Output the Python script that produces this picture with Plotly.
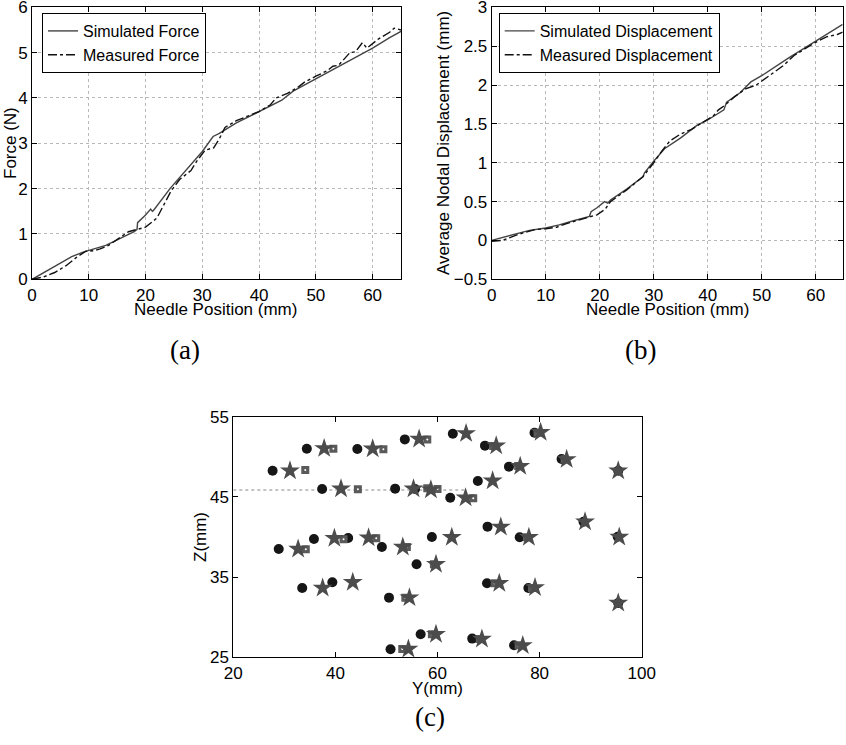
import plotly.graph_objects as go

# ---------------- Panel (a): force ----------------
force_sim_x = [0, 3, 7, 9, 10, 13, 15, 18, 18.5, 18.6, 20, 20.9, 21.2, 21.4, 24.3, 27, 30, 31.9, 33, 36, 40, 44, 46, 50, 54, 57, 60, 63, 65]
force_sim_y = [0, 0.22, 0.5, 0.6, 0.64, 0.75, 0.87, 1.05, 1.1, 1.25, 1.42, 1.55, 1.5, 1.52, 2.0, 2.4, 2.82, 3.15, 3.22, 3.45, 3.7, 3.95, 4.15, 4.42, 4.7, 4.9, 5.1, 5.33, 5.47]

force_meas_x = [0, 2, 4, 6, 8, 9.5, 11, 12, 13.5, 15, 17, 18.5, 20, 22, 23, 24.5, 26, 28, 29, 30.5, 32, 33, 34, 36, 38, 40, 42, 43, 44, 45, 47, 48, 50, 52, 53, 54, 56, 57, 58.2, 59, 61, 63, 63.8, 65]
force_meas_y = [0, 0.05, 0.15, 0.3, 0.5, 0.62, 0.63, 0.67, 0.75, 0.88, 1.05, 1.1, 1.15, 1.35, 1.6, 1.95, 2.2, 2.4, 2.6, 2.85, 2.9, 3.1, 3.35, 3.5, 3.6, 3.7, 3.85, 4.0, 4.05, 4.1, 4.25, 4.35, 4.48, 4.6, 4.7, 4.72, 5.0, 5.02, 5.22, 5.1, 5.3, 5.45, 5.54, 5.5]

# ---------------- Panel (b): displacement ----------------
disp_sim_x = [0, 3, 7, 10, 12.5, 15, 18.1, 18.4, 19.5, 20.9, 21.5, 22, 25, 28, 28.3, 30, 32, 35, 38, 40, 43, 43.5, 46, 48, 50, 55, 60, 62, 65]
disp_sim_y = [0, 0.06, 0.13, 0.16, 0.2, 0.25, 0.31, 0.37, 0.42, 0.5, 0.48, 0.52, 0.66, 0.82, 0.87, 1.02, 1.18, 1.32, 1.48, 1.55, 1.68, 1.78, 1.9, 2.04, 2.12, 2.35, 2.57, 2.65, 2.78]

disp_meas_x = [0, 2, 5, 8, 10, 12, 14, 16, 18, 19.5, 21, 22, 25, 28, 30, 31.5, 33, 35, 37, 39, 41, 42, 43, 45, 47, 49, 50, 52, 54, 56, 58, 60, 62, 64, 65]
disp_meas_y = [-0.01, 0.0, 0.08, 0.14, 0.15, 0.17, 0.22, 0.26, 0.3, 0.33, 0.4, 0.5, 0.65, 0.82, 1.0, 1.15, 1.28, 1.37, 1.43, 1.52, 1.6, 1.68, 1.73, 1.85, 1.95, 2.0, 2.05, 2.15, 2.25, 2.38, 2.47, 2.55, 2.62, 2.65, 2.68]

# ---------------- Panel (c): node positions ----------------
circle_y = [27.7, 34.4, 44.3, 53.6, 63.0, 69.3, 79.0, 84.3, 95.4, 74.0, 67.9, 37.4, 51.7, 55.6, 62.5, 88.6, 69.8, 76.1, 95.3, 58.9, 42.5, 35.8, 28.9, 49.1, 55.9, 33.5, 39.4, 50.5, 69.7, 77.8, 95.4, 56.7, 50.8, 66.8, 75.0]
circle_z = [48.27, 51.01, 50.97, 52.17, 52.88, 51.39, 53.0, 49.72, 48.27, 48.77, 46.98, 45.98, 46.03, 45.98, 44.9, 41.91, 41.29, 39.96, 40.04, 40.0, 39.88, 39.75, 38.51, 38.76, 36.6, 33.65, 34.35, 32.44, 34.23, 33.65, 31.78, 27.87, 26.0, 27.33, 26.5]

square_y = [34.1, 39.6, 49.4, 58.0, 44.4, 58.0, 60.0, 67.0, 48.0, 41.6, 34.2, 54.0, 70.9, 79.6, 84.9, 75.8, 77.5, 59.3, 53.7, 71.2, 78.5, 58.9, 53.1, 68.3, 75.9]
square_z = [48.35, 51.01, 50.93, 52.17, 45.94, 46.07, 45.98, 44.82, 39.84, 39.71, 38.47, 38.76, 51.35, 53.0, 49.7, 48.85, 39.96, 36.6, 32.44, 34.23, 33.65, 27.87, 26.04, 27.29, 26.5]

star_y = [31.1, 37.8, 47.3, 56.4, 65.6, 71.5, 80.2, 85.3, 95.4, 76.2, 70.8, 41.1, 55.3, 58.7, 65.5, 88.9, 72.4, 77.9, 95.6, 62.8, 46.5, 39.8, 32.7, 53.2, 59.7, 37.5, 43.4, 54.5, 72.1, 79.1, 95.4, 59.7, 54.3, 68.7, 76.7]
star_z = [48.27, 51.05, 51.01, 52.22, 52.92, 51.39, 53.05, 49.68, 48.27, 48.81, 47.02, 46.03, 46.03, 45.9, 44.9, 41.91, 41.25, 39.96, 40.0, 39.96, 39.92, 39.84, 38.51, 38.76, 36.6, 33.65, 34.35, 32.44, 34.23, 33.69, 31.78, 27.87, 26.04, 27.29, 26.46]

ref_line_y = [20, 65.4]
ref_line_z = [45.86, 45.86]

W, H = 846, 745
FONT = "Liberation Sans, Arial, sans-serif"
SERIF = "Liberation Serif, DejaVu Serif, serif"


def px(x):
    return x / W


def py(y):
    return 1 - y / H


fig = go.Figure()

fig.add_trace(go.Scatter(x=force_sim_x, y=force_sim_y, mode="lines", name="Simulated Force",
                         line=dict(color="#444444", width=1.4), xaxis="x", yaxis="y", legend="legend"))
fig.add_trace(go.Scatter(x=force_meas_x, y=force_meas_y, mode="lines", name="Measured Force",
                         line=dict(color="#111111", width=1.4, dash="dashdot"), xaxis="x", yaxis="y", legend="legend"))

fig.add_trace(go.Scatter(x=disp_sim_x, y=disp_sim_y, mode="lines", name="Simulated Displacement",
                         line=dict(color="#444444", width=1.4), xaxis="x2", yaxis="y2", legend="legend2"))
fig.add_trace(go.Scatter(x=disp_meas_x, y=disp_meas_y, mode="lines", name="Measured Displacement",
                         line=dict(color="#111111", width=1.4, dash="dashdot"), xaxis="x2", yaxis="y2", legend="legend2"))

fig.add_trace(go.Scatter(x=ref_line_y, y=ref_line_z, mode="lines", showlegend=False,
                         line=dict(color="#888888", width=1.2, dash="dot"), xaxis="x3", yaxis="y3"))
fig.add_trace(go.Scatter(x=circle_y, y=circle_z, mode="markers", showlegend=False,
                         marker=dict(symbol="circle", size=10, color="#161616"), xaxis="x3", yaxis="y3"))
fig.add_trace(go.Scatter(x=square_y, y=square_z, mode="markers", showlegend=False,
                         marker=dict(symbol="square", size=8, color="#5a5a5a"), xaxis="x3", yaxis="y3"))
fig.add_trace(go.Scatter(x=square_y, y=square_z, mode="markers", showlegend=False,
                         marker=dict(symbol="circle", size=2, color="#ffffff"), xaxis="x3", yaxis="y3"))
fig.add_trace(go.Scatter(x=star_y, y=star_z, mode="markers", showlegend=False,
                         marker=dict(symbol="star", size=15, color="#4c4c4c"), xaxis="x3", yaxis="y3"))

axis_common = dict(showline=True, linecolor="black", linewidth=1, mirror="ticks", ticks="inside",
                   ticklen=5, tickcolor="black", tickfont=dict(family=FONT, size=17, color="black"),
                   zeroline=False, automargin=False, ticklabeloverflow="allow")
grid = dict(showgrid=True, gridcolor="#b8b8b8", griddash="dot", gridwidth=1)

fig.update_layout(
    width=W, height=H, margin=dict(l=0, r=0, t=0, b=0, autoexpand=False),
    paper_bgcolor="white", plot_bgcolor="white",
    xaxis=dict(domain=[px(32), px(401)], range=[0, 65], dtick=10, tick0=0, anchor="y", **axis_common, **grid),
    yaxis=dict(domain=[py(279.3), py(7.3)], range=[0, 6], dtick=1, anchor="x", **axis_common, **grid),
    xaxis2=dict(domain=[px(491.7), px(842.7)], range=[0, 65], dtick=10, tick0=0, anchor="y2", **axis_common, **grid),
    yaxis2=dict(domain=[py(279.3), py(7.3)], range=[-0.5, 3], dtick=0.5, tick0=0, anchor="x2", **axis_common, **grid),
    xaxis3=dict(domain=[px(233.3), px(641.7)], range=[20, 100], dtick=20, tick0=20, anchor="y3", showgrid=False, **axis_common),
    yaxis3=dict(domain=[py(657.3), py(416.7)], range=[25, 55], dtick=10, tick0=25, anchor="x3", showgrid=False, **axis_common),
    legend=dict(x=px(42), y=py(13), xanchor="left", yanchor="top", bgcolor="white",
                bordercolor="black", borderwidth=1, font=dict(family=FONT, size=16, color="black"),
                tracegroupgap=0, itemwidth=30),
    legend2=dict(x=px(498.7), y=py(13), xanchor="left", yanchor="top", bgcolor="white",
                 bordercolor="black", borderwidth=1, font=dict(family=FONT, size=16, color="black"),
                 tracegroupgap=0, itemwidth=30),
)

ann_font = dict(family=FONT, size=17, color="black")
serif_font = dict(family=SERIF, size=27, color="black")


def label(text, x, y, font=ann_font, angle=0):
    return dict(text=text, x=px(x), y=py(y), xref="paper", yref="paper", showarrow=False,
                xanchor="center", yanchor="middle", font=font, textangle=angle)


annotations = [
    label("Needle Position (mm)", 216, 309),
    label("Force (N)", 10, 143, angle=-90),
    label("Needle Position (mm)", 667, 309),
    label("Average Nodal Displacement (mm)", 443, 143, angle=-90),
    label("Y(mm)", 437, 688),
    label("Z(mm)", 200, 537, angle=-90),
    label("(a)", 185, 350, serif_font),
    label("(b)", 640, 350, serif_font),
    label("(c)", 430, 717, serif_font),
]
fig.update_layout(annotations=annotations)

fig.write_html("out.html", config={"displayModeBar": False},
               post_script="document.body.style.margin='0';document.body.style.overflow='hidden';")
